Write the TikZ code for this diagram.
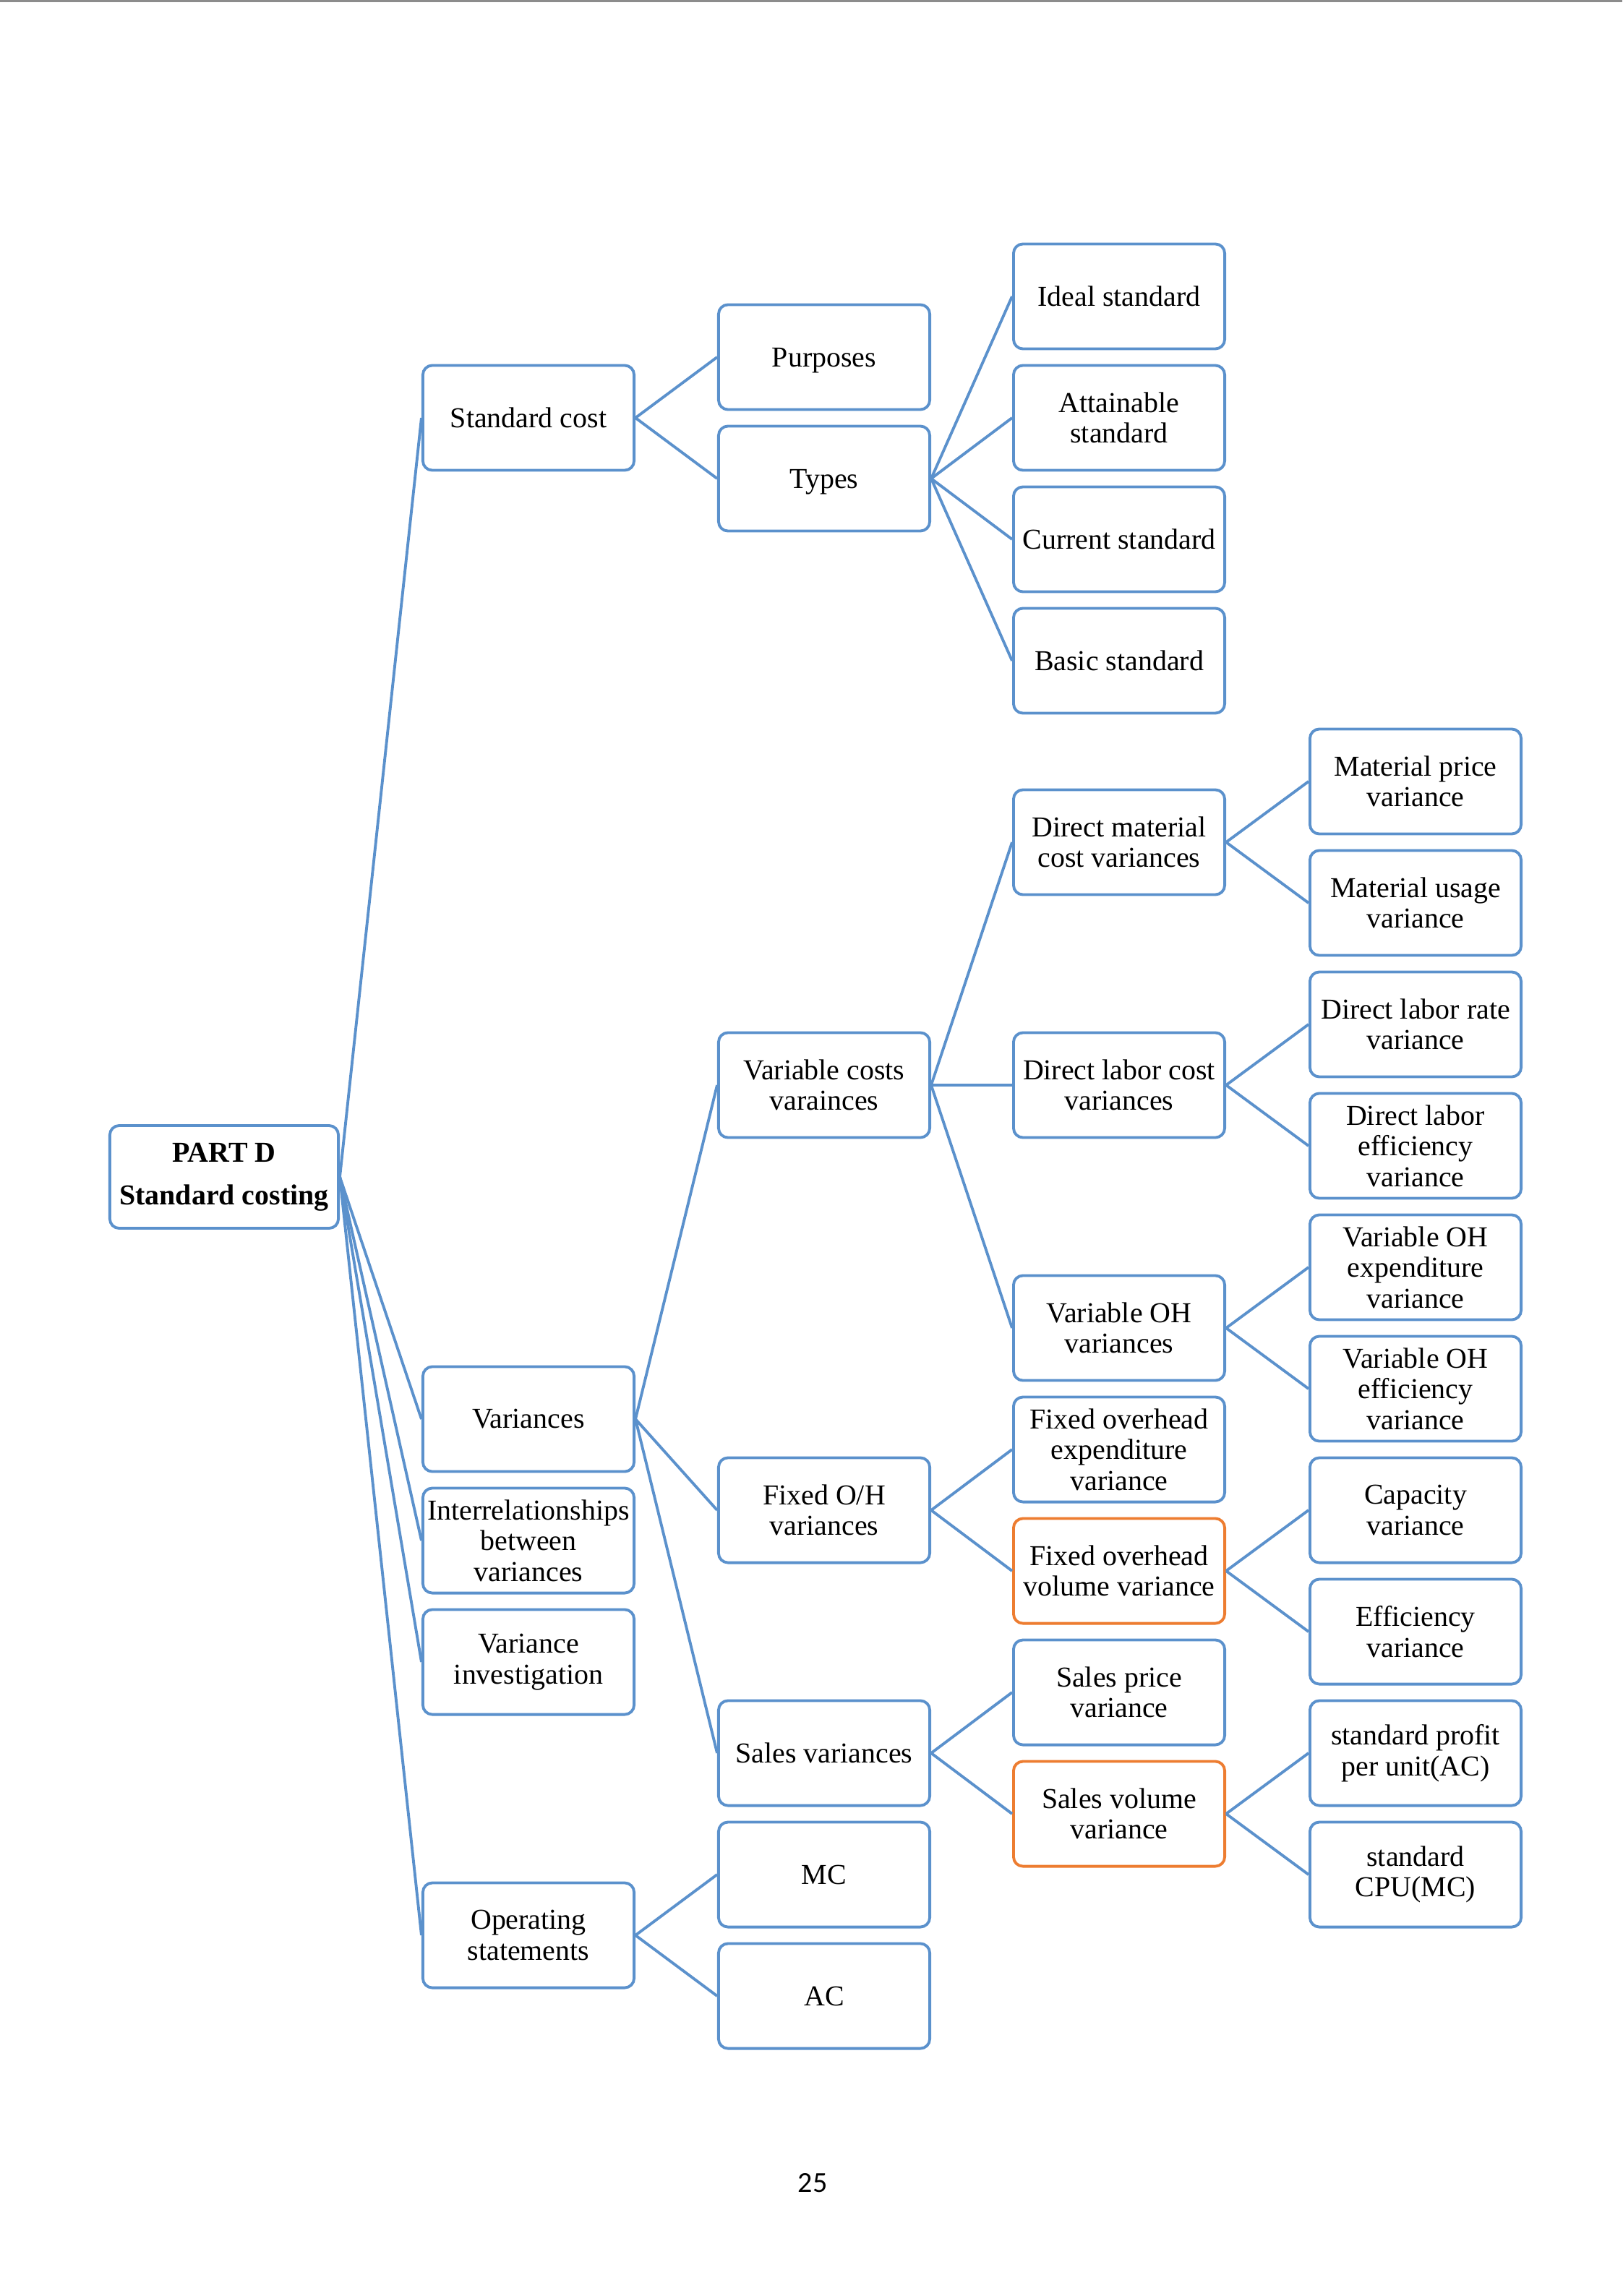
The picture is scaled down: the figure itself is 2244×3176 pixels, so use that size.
\documentclass[tikz,border=0pt]{standalone}
\usepackage{fontspec}
\setmainfont{Liberation Serif}
\newfontfamily\pgnumfont{Carlito}
\definecolor{boxblue}{RGB}{91,145,204}
\definecolor{boxorange}{RGB}{237,125,49}
\begin{document}
\begin{tikzpicture}[x=0.01cm,y=-0.01cm,
  box/.style={draw=boxblue, line width=1.1pt, rounded corners=3.7pt,
    minimum width=2.92cm, minimum height=1.45cm, inner sep=0pt, align=center,
    font=\fontsize{11.35}{12.1}\selectfont},
  obox/.style={box, draw=boxorange},
  rootbox/.style={box, minimum width=3.16cm, minimum height=1.42cm},
  link/.style={draw=boxblue, line width=1.1pt}]
\useasboundingbox (0,0) rectangle (2244,3176);
\fill[gray!90] (0,0) rectangle (2244,3);

% root
\node[rootbox] (root) at (310,1628) {\textbf{PART D}\\[4.6pt]\textbf{Standard costing}};

% column 1
\node[box] (stdcost) at (731,578) {Standard cost};
\node[box] (var) at (731,1963) {Variances};
\node[box] (inter) at (731,2131) {Interrelationships\\between\\variances};
\node[box] (vinv) at (731,2299) {Variance\\investigation};
\node[box] (opst) at (731,2677) {Operating\\statements};

% column 2
\node[box, text depth=0pt] (purp) at (1140,494) {Purposes};
\node[box, text depth=0pt] (types) at (1140,662) {Types};
\node[box] (varc) at (1140,1501) {Variable costs\\varainces};
\node[box] (fixoh) at (1140,2089) {Fixed O/H\\variances};
\node[box] (sales) at (1140,2425) {Sales variances};
\node[box] (mc) at (1140,2593) {MC};
\node[box] (ac) at (1140,2761) {AC};

% column 3
\node[box] (ideal) at (1548,410) {Ideal standard};
\node[box] (attain) at (1548,578) {Attainable\\standard};
\node[box] (current) at (1548,746) {Current standard};
\node[box] (basic) at (1548,914) {Basic standard};
\node[box] (dmat) at (1548,1165) {Direct material\\cost variances};
\node[box] (dlab) at (1548,1501) {Direct labor cost\\variances};
\node[box] (voh) at (1548,1837) {Variable OH\\variances};
\node[box] (foexp) at (1548,2005) {Fixed overhead\\expenditure\\variance};
\node[obox] (fovol) at (1548,2173) {Fixed overhead\\volume variance};
\node[box] (sprice) at (1548,2341) {Sales price\\variance};
\node[obox] (svol) at (1548,2509) {Sales volume\\variance};

% column 4
\node[box] (mprice) at (1958,1081) {Material price\\variance};
\node[box] (musage) at (1958,1249) {Material usage\\variance};
\node[box] (dlrate) at (1958,1417) {Direct labor rate\\variance};
\node[box] (dleff) at (1958,1585) {Direct labor\\efficiency\\variance};
\node[box] (vohexp) at (1958,1753) {Variable OH\\expenditure\\variance};
\node[box] (voheff) at (1958,1921) {Variable OH\\efficiency\\variance};
\node[box] (cap) at (1958,2089) {Capacity\\variance};
\node[box] (eff) at (1958,2257) {Efficiency\\variance};
\node[box] (spu) at (1958,2425) {standard profit\\per unit(AC)};
\node[box] (cpu) at (1958,2593) {standard\\CPU(MC)};

% page number
\node[font=\pgnumfont\fontsize{11.4}{13}\selectfont, inner sep=0pt] (pg) at (1124,3020) {25};

% connectors
\foreach \c in {stdcost,var,inter,vinv,opst} \draw[link] (root.east) -- (\c.west);
\foreach \c in {purp,types} \draw[link] (stdcost.east) -- (\c.west);
\foreach \c in {ideal,attain,current,basic} \draw[link] (types.east) -- (\c.west);
\foreach \c in {varc,fixoh,sales} \draw[link] (var.east) -- (\c.west);
\foreach \c in {dmat,dlab,voh} \draw[link] (varc.east) -- (\c.west);
\foreach \c in {mprice,musage} \draw[link] (dmat.east) -- (\c.west);
\foreach \c in {dlrate,dleff} \draw[link] (dlab.east) -- (\c.west);
\foreach \c in {vohexp,voheff} \draw[link] (voh.east) -- (\c.west);
\foreach \c in {foexp,fovol} \draw[link] (fixoh.east) -- (\c.west);
\foreach \c in {cap,eff} \draw[link] (fovol.east) -- (\c.west);
\foreach \c in {sprice,svol} \draw[link] (sales.east) -- (\c.west);
\foreach \c in {spu,cpu} \draw[link] (svol.east) -- (\c.west);
\foreach \c in {mc,ac} \draw[link] (opst.east) -- (\c.west);
\end{tikzpicture}
\end{document}
